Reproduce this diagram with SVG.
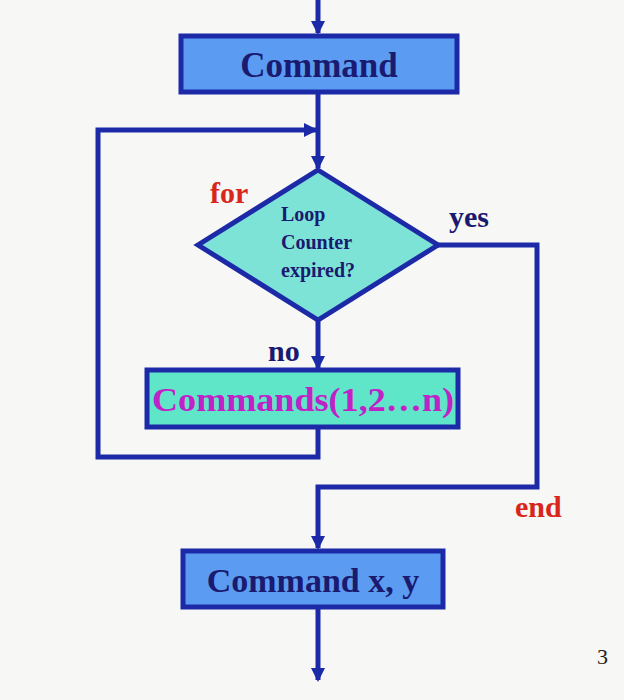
<svg xmlns="http://www.w3.org/2000/svg" width="624" height="700" viewBox="0 0 624 700">
<defs>
<marker id="ah" markerWidth="14" markerHeight="14" refX="12" refY="7" orient="auto" markerUnits="userSpaceOnUse">
<path d="M0,0 L14,7 L0,14 z" fill="#1d2aa8"/>
</marker>
<style>
.ln{fill:none;stroke:#1d2aa8;stroke-width:5}
.bx{stroke:#1d2aa8;stroke-width:5}
.t{font-family:"Liberation Serif",serif;font-weight:bold}
</style>
</defs>
<rect width="624" height="700" fill="#f7f7f5"/>
<g id="connectors">
<line class="ln" x1="318" y1="0" x2="318" y2="33" marker-end="url(#ah)"/>
<line class="ln" x1="318" y1="92" x2="318" y2="168" marker-end="url(#ah)"/>
<polyline class="ln" points="318,428 318,457 98,457 98,130 316,130" marker-end="url(#ah)"/>
<line class="ln" x1="318" y1="320" x2="318" y2="368" marker-end="url(#ah)"/>
<polyline class="ln" points="438,245 537,245 537,487 318,487 318,548" marker-end="url(#ah)"/>
<line class="ln" x1="318" y1="607" x2="318" y2="680" marker-end="url(#ah)"/>
</g>
<g id="command">
<rect class="bx" x="181" y="36" width="276" height="56" fill="#5b9cf2"/>
<text class="t" x="319" y="77" font-size="35" fill="#1a1a70" text-anchor="middle">Command</text>
</g>
<g id="decision">
<polygon class="bx" points="318,170 438,245 318,320 198,245" fill="#7de3d6"/>
<text class="t" x="281" y="221" font-size="20" fill="#1a1a70">Loop</text>
<text class="t" x="281" y="249" font-size="20" fill="#1a1a70">Counter</text>
<text class="t" x="281" y="277" font-size="20" fill="#1a1a70">expired?</text>
</g>
<g id="commands">
<rect class="bx" x="147" y="370" width="311" height="57" fill="#5fe6c8"/>
<text class="t" x="152" y="411" font-size="34" fill="#c022c8" textLength="302" lengthAdjust="spacingAndGlyphs">Commands(1,2…n)</text>
</g>
<g id="commandxy">
<rect class="bx" x="183" y="551" width="260" height="56" fill="#5b9cf2"/>
<text class="t" x="313" y="592" font-size="34" fill="#1a1a70" text-anchor="middle">Command x, y</text>
</g>
<g id="labels">
<text class="t" x="210" y="203" font-size="30" fill="#d9261c">for</text>
<text class="t" x="449" y="227" font-size="30" fill="#1a1a70">yes</text>
<text class="t" x="268" y="361" font-size="30" fill="#1a1a70">no</text>
<text class="t" x="515" y="517" font-size="30" fill="#d9261c">end</text>
<text x="597" y="664" font-size="22" font-family="Liberation Serif,serif" fill="#222">3</text>
</g>
</svg>
